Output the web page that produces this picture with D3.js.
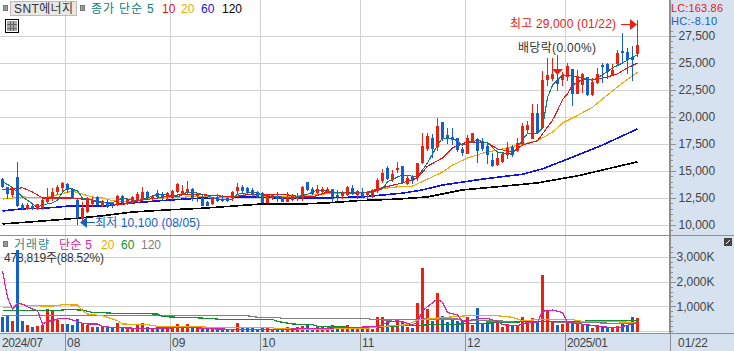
<!DOCTYPE html>
<html><head><meta charset="utf-8">
<script src="https://cdn.jsdelivr.net/npm/d3@7"></script>
<style>
html,body{margin:0;padding:0;background:#fff;overflow:hidden}
svg{display:block}
text{font-family:"Liberation Sans","Noto Sans CJK KR",sans-serif;font-size:12px}
</style></head><body><svg id="c" width="734" height="351"></svg>
<script>
const opens=[14250,13500,12850,14450,11850,11550,11750,11550,11650,12250,12600,13150,13500,13800,13250,12300,10650,11300,12050,12600,11850,12150,12050,12050,12700,12050,12250,12300,12500,13050,12500,12950,12850,12700,12600,13150,12950,13150,13350,12800,12500,12150,12050,12600,12400,12500,12600,13250,13500,13450,13250,13050,12950,12150,12600,12700,12500,12250,12400,12500,12600,14000,13350,13050,13150,13250,13350,12800,12800,12850,13450,12850,13050,12850,12700,13250,14150,15300,14250,15200,15450,13900,14450,14450,15850,17150,18050,17300,19550,18350,18150,18050,17050,16650,17800,17950,17700,17300,16000,15650,15950,16550,17200,16950,17600,18900,18050,20350,19050,23500,23600,23400,23500,23800,24450,22200,23050,23700,22150,23250,24800,24900,24000,25000,26100,26000,25550,25900];
const highs=[14350,13500,13500,15850,12050,12050,11950,11950,12600,13450,13450,13700,14000,13900,13450,12500,12150,12600,12600,12700,12300,12300,12150,12800,12800,12500,12700,13050,13500,13150,12800,13250,13050,13050,13250,13900,13700,14050,13450,12950,12850,12250,12600,12850,12800,12700,13150,13900,13700,13500,13450,13150,13050,12800,12800,13050,12500,13050,12850,12950,13600,14000,13500,13700,13500,13500,13350,13250,13150,13600,13700,13250,13450,13150,13350,14350,15200,15450,15100,15850,15450,14650,14650,15750,18500,18500,18450,19900,19550,19000,19000,18050,17200,18350,18500,18050,18050,17700,16650,16750,16650,17700,17400,18050,19450,19650,21200,21200,24250,25450,25450,24350,24150,25000,24450,24350,24050,23700,23600,24550,25000,25000,24900,26200,27800,26400,26550,29000];
const lows=[13500,12500,12700,11750,11500,11500,11500,11500,11500,12150,12300,12850,13250,13050,12500,10100,10200,11200,11750,11850,11750,11650,11650,11950,12050,11950,12050,12250,12300,12500,12300,12500,12300,12400,12400,13050,12850,12950,12300,12250,11850,11850,11950,12250,12250,12250,12300,12950,13050,12950,12700,12600,12150,12150,12400,12250,12250,12250,12300,12300,12300,13250,12850,12950,12950,13050,12250,12300,12500,12800,12850,12500,12600,12500,12600,13050,14000,14250,14050,14900,13900,13800,13900,14150,15750,16950,16300,16950,17850,17600,17500,16850,16500,16650,17700,15850,16950,15750,15450,15550,15850,16200,16400,16850,17500,18500,18050,18500,19050,22950,23400,22500,22950,23400,21100,22200,22300,22050,22050,23150,23250,23600,23900,24800,25100,24050,23400,25650];
const closes=[13600,12950,13450,11850,11550,11850,11550,11950,12300,12400,13050,13500,13900,13350,12600,10750,11550,12500,12300,11950,12150,11750,11850,12700,12150,12400,12600,12850,13050,12600,12700,12700,12600,12950,13150,13800,13150,13350,12600,12850,11850,11850,12500,12300,12300,12300,13050,13500,13250,13050,12850,12700,12150,12800,12800,12500,12250,12500,12700,12600,13500,13350,12950,13350,13350,13350,12700,12700,13050,13500,12950,13150,12700,13050,13250,14150,14800,14350,14700,15300,14000,14350,14150,15750,17300,18250,17150,19150,18150,18050,17950,17050,16750,18050,18500,16950,17150,16550,15550,16200,16550,17150,16550,17600,19150,19250,20350,18600,23400,23900,24000,23150,23900,24700,22200,23800,24000,22150,23250,24000,24700,24250,24350,25900,26000,25350,25350,26650];
const volumes=[550,650,420,3300,420,240,175,215,255,890,820,445,285,285,255,485,310,255,175,175,215,135,135,310,135,135,135,255,310,175,135,175,175,95,175,285,175,285,175,135,175,95,95,95,80,80,95,325,135,135,135,80,110,110,55,55,55,150,95,150,200,255,95,175,175,80,240,95,110,240,95,95,95,135,95,550,550,390,215,445,390,175,120,1130,2550,890,390,1540,595,365,445,390,420,580,240,930,310,420,310,310,175,285,215,215,550,310,525,350,2270,800,390,240,285,420,350,310,240,285,135,240,175,135,135,200,310,255,565,525];
const ma5=[[0,14050],[2,13450],[4,12600],[5,12300],[6,11950],[7,11650],[8,11850],[10,12050],[11,12300],[12,13050],[13,13450],[15,13150],[16,12500],[17,12400],[19,12150],[21,12050],[22,12050],[24,12500],[27,12250],[29,12500],[31,12850],[33,12800],[35,12600],[37,13050],[38,13050],[41,12700],[43,12400],[46,12400],[47,12850],[50,13050],[53,12700],[58,12500],[61,12850],[63,13250],[66,13050],[70,12950],[74,13050],[76,13350],[77,14000],[80,14650],[83,14450],[85,15750],[87,17400],[88,18050],[90,18050],[92,17400],[95,17850],[97,17600],[99,16750],[102,16550],[103,17200],[105,18500],[107,18500],[108,19000],[109,21800],[110,22950],[111,23400],[112,23900],[114,23800],[118,23400],[120,23900],[122,24550],[124,25000],[126,25550],[127,25750]];
const ma10=[[0,13250],[4,13450],[6,13050],[8,12500],[11,12500],[14,12500],[18,12300],[20,12150],[23,11850],[26,12050],[27,12250],[31,12500],[36,12850],[38,12850],[40,12800],[43,12700],[46,12600],[49,12800],[51,12850],[56,12850],[60,12600],[62,12600],[65,13050],[71,13050],[73,13050],[76,13450],[80,13900],[83,14350],[85,15450],[88,16200],[90,17150],[93,17700],[97,17600],[99,17050],[102,16750],[104,17400],[107,17800],[110,19700],[111,20600],[112,21600],[113,22150],[114,22950],[116,23500],[119,23500],[121,23700],[123,24000],[125,24550],[127,25000]];
const ma20=[[0,12400],[4,12600],[8,12500],[11,12800],[14,13150],[16,12850],[18,12600],[20,12500],[22,12250],[26,12150],[29,12400],[33,12500],[37,12600],[41,12600],[45,12500],[49,12850],[52,12600],[56,12600],[60,12700],[64,12850],[66,12950],[72,12950],[76,13350],[78,13500],[82,13600],[85,14250],[88,14900],[90,15550],[93,16200],[96,16650],[98,16850],[101,17150],[104,17500],[107,17800],[110,18600],[112,19450],[114,19900],[118,20900],[121,22050],[124,23150],[127,24150]];
const ma60=[[0,11300],[4,11500],[8,11550],[11,11650],[13,11750],[20,11750],[26,12050],[33,12300],[40,12500],[48,12600],[56,12500],[64,12500],[72,12600],[80,12950],[84,13250],[88,13700],[96,14250],[104,14700],[108,15200],[113,16100],[120,17400],[127,18900]];
const ma120=[[0,10100],[6,10300],[13,10550],[20,10850],[26,11200],[33,11400],[40,11550],[52,11950],[60,11950],[65,12050],[71,12250],[79,12400],[85,12600],[92,13250],[98,13500],[107,13900],[115,14550],[127,15850]];
const volMa5=[[0,2440],[1,1360],[2,890],[3,1120],[4,1090],[5,985],[6,890],[7,820],[8,285],[9,390],[10,420],[11,485],[12,515],[13,515],[14,445],[15,390],[16,310],[17,285],[19,285],[20,175],[23,135],[27,110],[33,120],[37,150],[43,80],[54,55],[75,175],[77,350],[79,420],[82,255],[83,350],[84,820],[85,985],[87,1300],[88,1160],[89,750],[91,650],[92,390],[95,485],[97,515],[99,390],[100,255],[103,215],[105,350],[107,350],[108,800],[110,850],[112,755],[113,350],[117,255],[119,190],[123,120],[127,350]];
const volMa20=[[0,960],[2,960],[3,1120],[5,1025],[10,1010],[12,1065],[15,1050],[16,820],[17,690],[20,620],[23,420],[24,285],[29,255],[31,190],[43,150],[54,135],[55,80],[63,80],[73,95],[74,150],[78,215],[81,255],[83,445],[87,525],[93,620],[99,620],[102,555],[104,420],[107,460],[114,460],[116,390],[121,380],[127,350]];
const volMa60=[[0,820],[10,820],[13,865],[16,850],[17,795],[18,755],[23,715],[31,690],[32,580],[40,525],[44,470],[54,470],[55,390],[58,285],[62,255],[63,190],[70,150],[74,135],[77,190],[86,255],[92,285],[105,380],[127,420]];
const volMa120=[[0,620],[43,635],[48,635],[50,595],[51,555],[55,555],[56,500],[73,500],[74,460],[77,445],[85,485],[91,485],[92,420],[105,390],[115,350],[123,310],[127,310]];
const monthStarts=[12.5,33.5,51.5,71.5,92.5,112.5];
const monthLabels=[[-0.5,"2024/07"],[12.5,"08"],[33.5,"09"],[51.5,"10"],[71.5,"11"],[92.5,"12"],[112.5,"2025/01"]];
const priceTicks=[10000,12500,15000,17500,20000,22500,25000,27500];
const volTicks=[1000,2000,3000];

const RED="#ea2010",BLUE="#1560c8",GRID="#d2d2d2",AXIS="#8f8f8f",PANEL="#d6e2f0";
const svg=d3.select("#c");
const x=d3.scaleLinear().domain([0,127]).range([2.5,637.5]);
const y=d3.scaleLinear().domain([10000,27500]).range([225,36]);
const v=d3.scaleLinear().domain([0,3000]).range([331,257]);

svg.append("rect").attr("x",670).attr("y",0).attr("width",64).attr("height",351).attr("fill",PANEL);
svg.append("rect").attr("x",0).attr("y",333).attr("width",734).attr("height",18).attr("fill",PANEL);

const grid=svg.append("g").attr("stroke",GRID).attr("stroke-width",1).attr("shape-rendering","crispEdges");
priceTicks.forEach(t=>grid.append("line").attr("x1",0).attr("x2",670).attr("y1",Math.round(y(t))+.5).attr("y2",Math.round(y(t))+.5));
[0,...volTicks].forEach(t=>grid.append("line").attr("x1",0).attr("x2",670).attr("y1",Math.round(v(t))+.5).attr("y2",Math.round(v(t))+.5));
monthStarts.forEach(m=>grid.append("line").attr("x1",Math.round(x(m))+.5).attr("x2",Math.round(x(m))+.5).attr("y1",0).attr("y2",333));

const line=(sx,sy)=>d3.line().x(d=>sx(d[0])).y(d=>sy(d[1]));
const priceLine=line(x,y),volLine=line(x,v);
const gm=svg.append("g").attr("fill","none").attr("shape-rendering","crispEdges");
[[ma120,"#000",1.6],[ma60,"#0a14f0",1.6],[ma20,"#f0a800",1.1],[ma10,"#f01010",1.1],[ma5,"#0a8078",1.1]]
 .forEach(([d,c,w])=>gm.append("path").attr("d",priceLine(d)).attr("stroke",c).attr("stroke-width",w));

const g=svg.append("g").attr("shape-rendering","crispEdges");
opens.forEach((o,i)=>{
  const c=closes[i],col=c>=o?RED:BLUE,cx=Math.floor(x(i));
  const hy=Math.round(y(highs[i])),ly=Math.round(y(lows[i])),t=Math.round(y(Math.max(o,c))),b=Math.round(y(Math.min(o,c)));
  g.append("rect").attr("x",cx).attr("width",1).attr("y",hy).attr("height",Math.max(1,ly-hy+1)).attr("fill",col);
  g.append("rect").attr("x",cx-1).attr("width",3).attr("y",t).attr("height",Math.max(1,b-t+1)).attr("fill",col);
});

const T=(s,px,py,c,w)=>{const e=svg.append("text").attr("x",px).attr("y",py).attr("fill",c).text(s);
  if(w)e.attr("textLength",w).attr("lengthAdjust","spacing");return e;};

T("478,819주(88.52%)",4,262,"#333",100);

const gv=svg.append("g").attr("shape-rendering","crispEdges");
volumes.forEach((vol,i)=>{
  const col=closes[i]>=opens[i]?RED:BLUE,t=Math.round(v(vol));
  gv.append("rect").attr("x",Math.floor(x(i))-1).attr("width",3).attr("y",t).attr("height",332-t).attr("fill",col);
});
const gl=svg.append("g").attr("fill","none").attr("shape-rendering","crispEdges");
[[volMa120,"#808080"],[volMa60,"#109030"],[volMa20,"#f0a800"],[volMa5,"#d820a8"]]
 .forEach(([d,c])=>gl.append("path").attr("d",volLine(d)).attr("stroke",c).attr("stroke-width",1.2));

const fr=svg.append("g").attr("stroke",AXIS).attr("shape-rendering","crispEdges");
fr.append("line").attr("x1",0).attr("x2",734).attr("y1",235.5).attr("y2",235.5);
fr.append("line").attr("x1",0).attr("x2",734).attr("y1",333.5).attr("y2",333.5);
fr.append("line").attr("x1",670.5).attr("x2",670.5).attr("y1",0).attr("y2",351);
fr.append("line").attr("x1",669.5).attr("x2",669.5).attr("y1",0).attr("y2",333);
monthStarts.forEach(m=>fr.append("line").attr("x1",Math.round(x(m))+.5).attr("x2",Math.round(x(m))+.5).attr("y1",333).attr("y2",351));

function axis(scale,major,minor,fmt,tx){
  const a=svg.append("g").attr("transform","translate(670.5,0)").attr("shape-rendering","crispEdges");
  a.call(d3.axisRight(scale).tickValues(minor).tickSize(2).tickFormat(""));
  a.select(".domain").remove();
  a.selectAll("line").attr("stroke",AXIS);
  const b=svg.append("g").attr("transform","translate(670.5,0)").attr("shape-rendering","crispEdges");
  b.call(d3.axisRight(scale).tickValues(major).tickSize(5).tickPadding(2).tickFormat(fmt));
  b.select(".domain").remove();
  b.selectAll("line").attr("stroke",AXIS);
  b.selectAll("text").attr("fill","#444").style("font-size","12px").attr("x",tx);
}
axis(y,priceTicks,d3.range(9500,28500,500),d3.format(","),8);
axis(v,volTicks,d3.range(0,3600,200),d=>d3.format(",")(d)+"K",6);

T("LC:163.86",671,11.5,RED,52).style("font-size","11px");
T("HC:-8.10",671,24.5,BLUE,46).style("font-size","11px");
monthLabels.forEach(([m,s])=>T(s,m<0?2:Math.round(x(m))+2,347,"#444",s.length>2?41:null));
T("01/22",678,347,"#444",30);

const sq=(px,py)=>svg.append("rect").attr("x",px+.5).attr("y",py+.5).attr("width",4).attr("height",5).attr("fill","#999").attr("stroke","#777").attr("shape-rendering","crispEdges");
sq(3,5);sq(80,5);sq(3,241);
svg.append("rect").attr("x",10.5).attr("y",1.5).attr("width",66).attr("height",14).attr("fill","#e8e8e8").attr("stroke","#bbb").attr("shape-rendering","crispEdges");
T("SNT에너지",14,13,"#333",59);
T("종가 단순",91,13,"#0a8078",51);
T("5",147,13,"#0a8078");T("10",162,13,"#f01010");T("20",181,13,"#f0a800");T("60",201,13,"#0a14f0");T("120",222,13,"#000");
const ic=svg.append("g").attr("shape-rendering","crispEdges");
ic.append("rect").attr("x",5.5).attr("y",19.5).attr("width",13).attr("height",13).attr("fill","#fff").attr("stroke","#000");
ic.append("rect").attr("x",7).attr("y",21).attr("width",10).attr("height",10).attr("fill","#aaa");
[10,13].forEach(p=>ic.append("rect").attr("x",p).attr("y",21).attr("width",1).attr("height",10).attr("fill","#666"));
[24,28].forEach(p=>ic.append("rect").attr("x",7).attr("y",p).attr("width",10).attr("height",1).attr("fill","#666"));

T("거래량",14,249,"#2a8a8a",35);
T("단순 5",59,249,"#d820a8",33);T("20",101,249,"#f0a800");T("60",121,249,"#109030");T("120",141,249,"#808080");

T("최고 29,000 (01/22)",510,28,RED,106);
const hiY=Math.round(y(highs[127]))+4;
svg.append("line").attr("x1",621).attr("x2",631).attr("y1",hiY+.5).attr("y2",hiY+.5).attr("stroke",RED).attr("shape-rendering","crispEdges");
svg.append("path").attr("d",d3.line()([[630,hiY-5],[637,hiY+.5],[630,hiY+6]])).attr("fill",RED);
T("배당락(0.00%)",518,52,"#333",78);
svg.append("line").attr("x1",557.5).attr("x2",557.5).attr("y1",55).attr("y2",70).attr("stroke",RED).attr("shape-rendering","crispEdges");
svg.append("path").attr("d",d3.line()([[552,69],[563,69],[557.5,75]])).attr("fill",RED);
T("최저 10,100 (08/05)",95,227,BLUE,105);
const loY=Math.round(y(lows[15]))-2;
svg.append("line").attr("x1",86).attr("x2",95).attr("y1",loY+.5).attr("y2",loY+.5).attr("stroke",BLUE).attr("shape-rendering","crispEdges");
svg.append("path").attr("d",d3.line()([[87,loY-5],[80,loY+.5],[87,loY+6]])).attr("fill",BLUE);

svg.append("rect").attr("x",724).attr("y",238).attr("width",8).attr("height",8).attr("fill","#444");
svg.append("path").attr("d","M726 244L730 240").attr("stroke","#fff");
</script></body></html>
